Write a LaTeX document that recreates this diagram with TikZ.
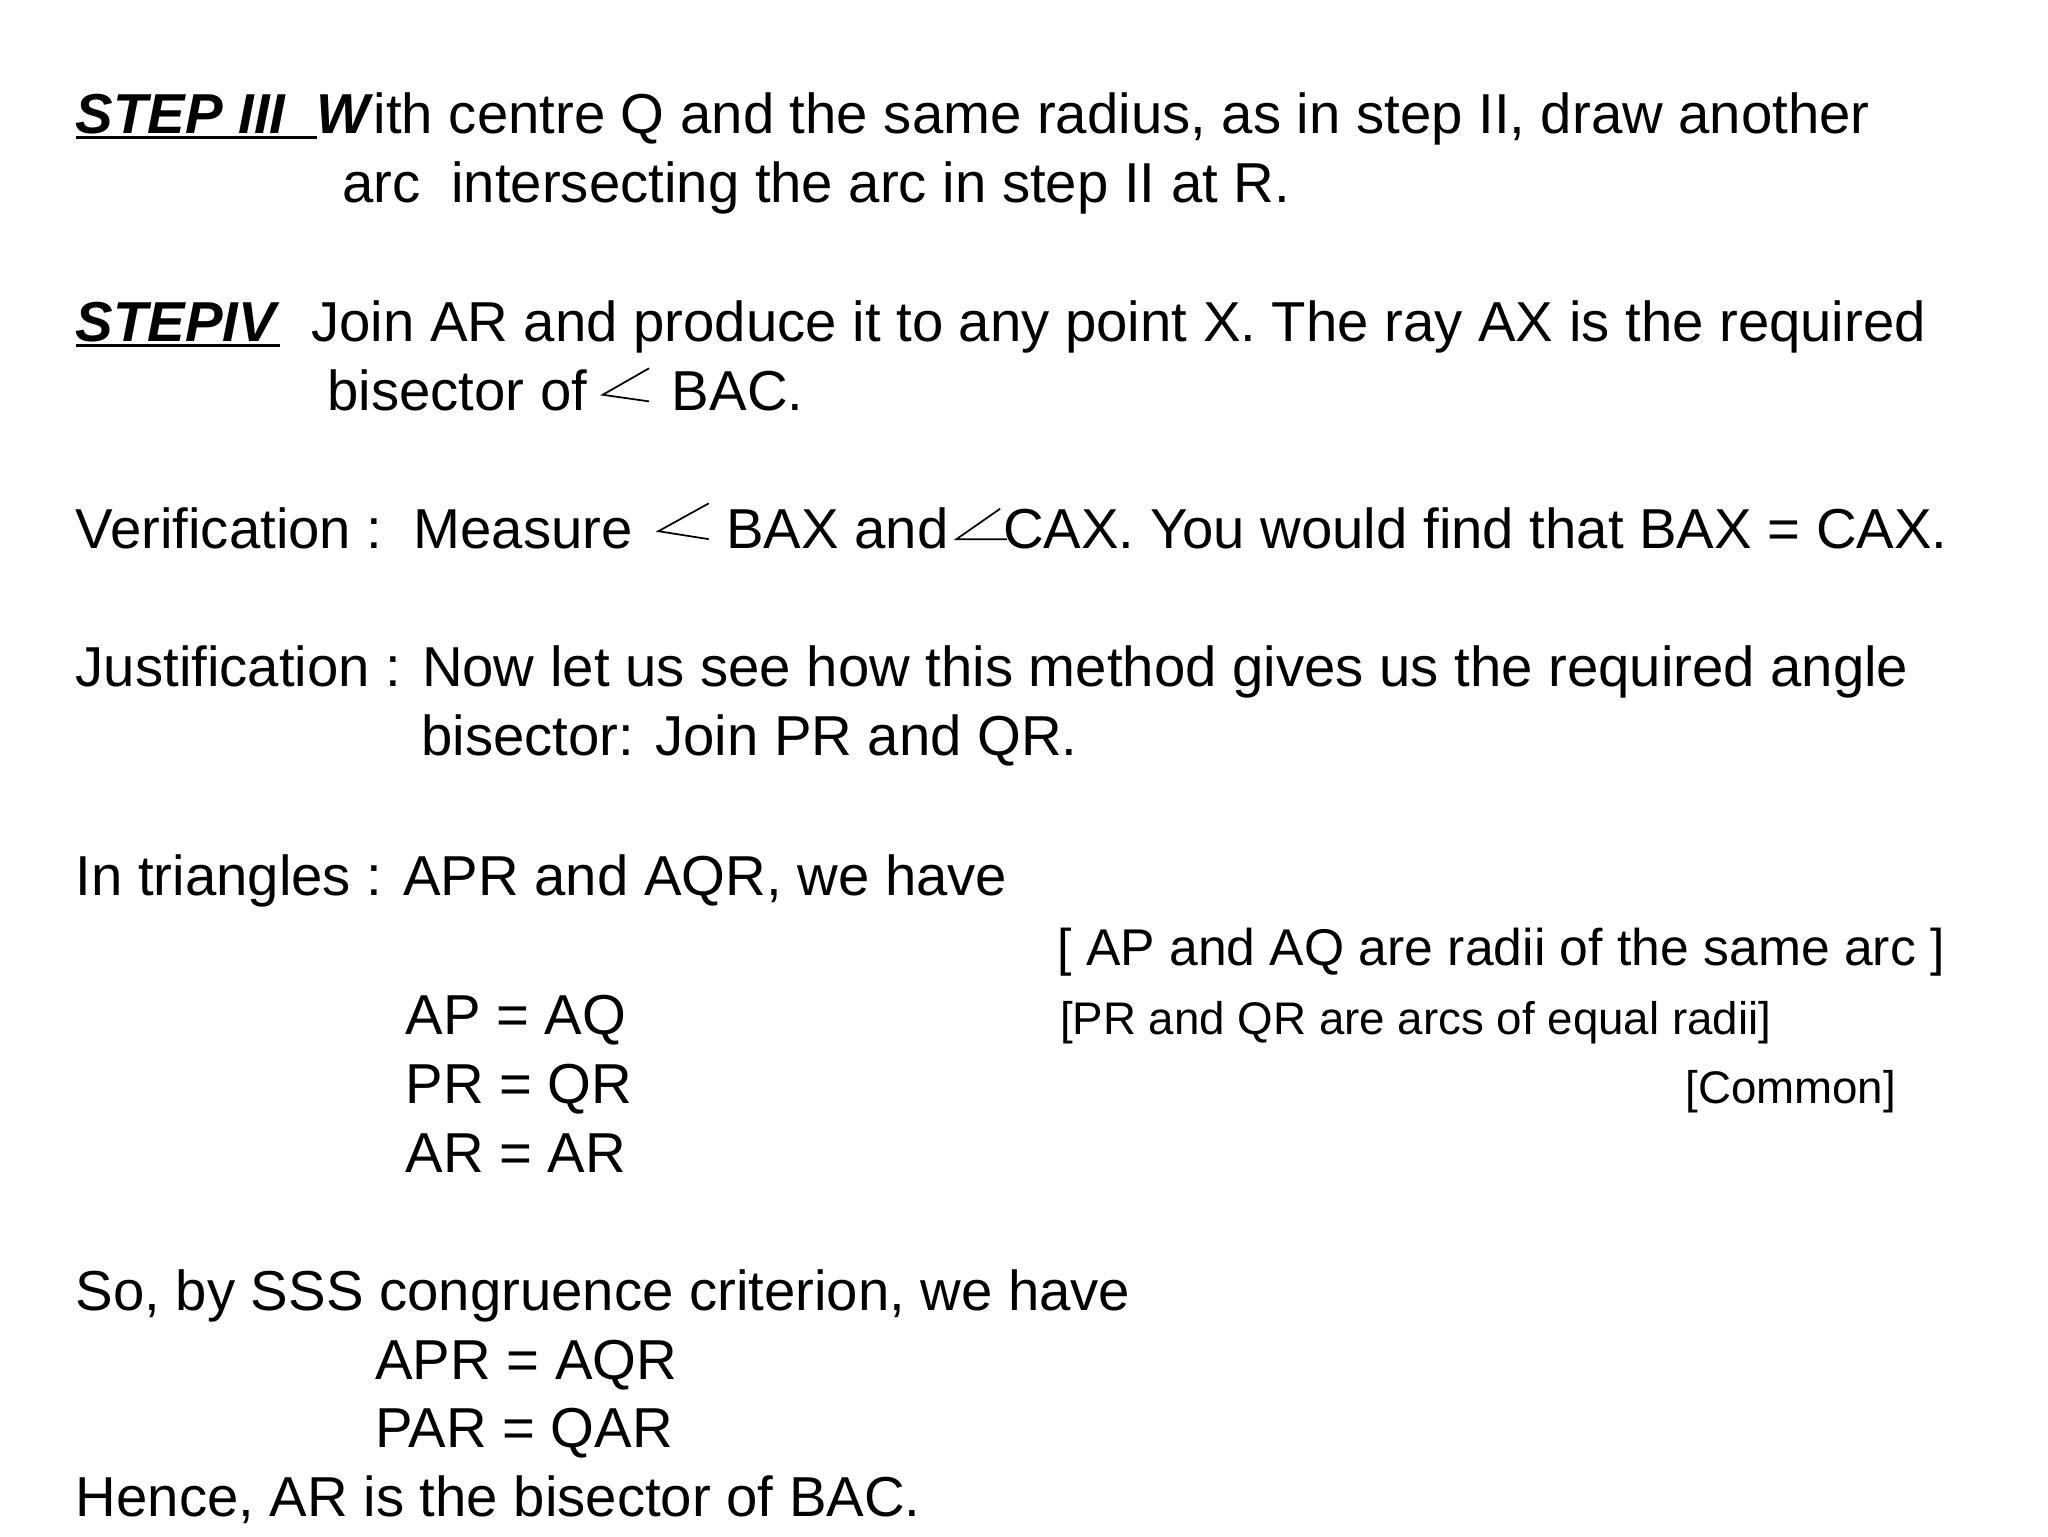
\documentclass[tikz,border=0pt]{standalone}
\usepackage{fontspec}
\setmainfont{Liberation Sans}
\newcommand{\thickul}[1]{\setbox0\hbox{#1}\rlap{\rule[-4pt]{\wd0}{2.5pt}}\box0}
\begin{document}
\begin{tikzpicture}[x=1pt,y=-1pt,
  t/.style={anchor=base west,inner sep=0pt,font=\fontsize{42.5}{48}\selectfont},
  m/.style={anchor=base west,inner sep=0pt,font=\fontsize{39}{44}\selectfont},
  s/.style={anchor=base west,inner sep=0pt,font=\fontsize{34.5}{38}\selectfont},
  ang/.style={line width=1.3pt}]
\useasboundingbox (0,0) rectangle (1546,1160);
\node[t] (l1) at (57,101) {\thickul{\textbf{\textit{STEP III\ \ }}}\textbf{\textit{W}}ith centre Q and the same radius, as in step II, draw another};
\node[t] (l2) at (258,153) {arc\ \ intersecting the arc in step II at R.};
\node[t] (l3) at (57,258) {\thickul{\textbf{\textit{STEPIV}}}\ \ Join AR and produce it to any point X. The ray AX is the required};
\node[t] (l4) at (247,310) {bisector of};
\node[t] (l4b) at (507,310) {BAC.};
\node[t] (l5) at (57,414) {Verification :\ \ Measure};
\node[t] (l5b) at (548,414) {BAX and};
\node[t] (l5c) at (757,414) {CAX. You would find that BAX = CAX.};
\node[t] (l6) at (57,518) {Justification : Now let us see how this method gives us the required angle};
\node[t] (l7) at (318,570) {bisector: Join PR and QR.};
\node[t] (l8) at (57,676) {In triangles : APR and AQR, we have};
\node[m] (r1) at (798,729) {[ AP and AQ are radii of the same arc ]};
\node[t] (e1) at (306,781) {AP = AQ};
\node[s] (r2) at (800,781) {[PR and QR are arcs of equal radii]};
\node[t] (e2) at (306,833) {PR = QR};
\node[s] (r3) at (1272,833) {[Common]};
\node[t] (e3) at (306,885) {AR = AR};
\node[t] (l9) at (57,989) {So, by SSS congruence criterion, we have};
\node[t] (e4) at (283,1041) {APR = AQR};
\node[t] (e5) at (283,1093) {PAR = QAR};
\node[t] (l10) at (57,1145) {Hence, AR is the bisector of BAC.};
\draw[ang] (490,278) -- (455,298) -- (490,303);
\draw[ang] (535,380) -- (497,401) -- (535,407);
\draw[ang] (755,384) -- (722,407) -- (760,407);
\end{tikzpicture}
\end{document}
